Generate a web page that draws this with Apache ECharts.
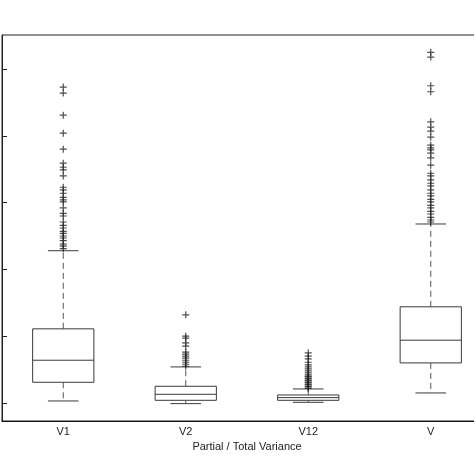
<!DOCTYPE html>
<html>
<head>
<meta charset="utf-8">
<script src="https://cdn.jsdelivr.net/npm/echarts@6/dist/echarts.min.js"></script>
<style>html,body{margin:0;padding:0;background:#fff;overflow:hidden;width:474px;height:474px;}#c{width:494px;height:474px;}</style>
</head>
<body>
<div id="c"></div>
<script>
const categories = ['V1', 'V2', 'V12', 'V'];
// [low whisker, Q1, median, Q3, high whisker]
const boxV1 = [0.003, 0.031, 0.064, 0.111, 0.228];
const boxV2 = [-0.001, 0.004, 0.013, 0.025, 0.054];
const boxV12 = [0.001, 0.004, 0.008, 0.012, 0.021];
const boxV = [0.015, 0.060, 0.094, 0.144, 0.268];
const outV1 = [0.473, 0.464, 0.431, 0.404, 0.380, 0.359, 0.353, 0.349, 0.340, 0.323, 0.319, 0.314, 0.308, 0.304, 0.301, 0.292, 0.284, 0.280, 0.271, 0.266, 0.262, 0.257, 0.254, 0.250, 0.247, 0.243, 0.238, 0.235, 0.231];
const outV2 = [0.132, 0.100, 0.097, 0.090, 0.085, 0.076, 0.073, 0.070, 0.067, 0.064, 0.061, 0.058, 0.055];
const outV12 = [0.075, 0.070, 0.066, 0.061, 0.057, 0.054, 0.051, 0.048, 0.045, 0.042, 0.040, 0.039, 0.037, 0.036, 0.034, 0.033, 0.031, 0.030, 0.028, 0.027, 0.025, 0.024, 0.022];
const outV = [0.525, 0.518, 0.475, 0.466, 0.421, 0.413, 0.407, 0.398, 0.386, 0.382, 0.379, 0.374, 0.367, 0.356, 0.344, 0.340, 0.334, 0.329, 0.325, 0.319, 0.314, 0.310, 0.305, 0.301, 0.296, 0.292, 0.287, 0.283, 0.278, 0.274, 0.271];
const yTicks = [0, 0.1, 0.2, 0.3, 0.4, 0.5];
const xTitle = 'Partial / Total Variance';

const boxes = [boxV1, boxV2, boxV12, boxV];
const outs = [outV1, outV2, outV12, outV];
const boxData = boxes.map((b, i) => [i].concat(b));
const outData = [];
outs.forEach((arr, i) => arr.forEach(v => outData.push([i, v])));

const lineColor = '#3a3a3a';
const chart = echarts.init(document.getElementById('c'));
chart.setOption({
  animation: false,
  backgroundColor: '#fff',
  textStyle: { fontFamily: 'Liberation Sans, Arial, sans-serif' },
  grid: { left: 2, right: 2, top: 35, bottom: 53, show: true, borderColor: '#222', borderWidth: 1 },
  xAxis: [{
    type: 'category', data: categories, position: 'bottom',
    axisLine: { onZero: false, lineStyle: { color: '#111', width: 1.2 } },
    axisTick: { inside: true, alignWithLabel: true, length: 5, lineStyle: { color: '#222' } },
    axisLabel: { color: '#222', fontSize: 11, margin: 5 },
    name: xTitle, nameLocation: 'middle', nameGap: 14,
    nameTextStyle: { color: '#222', fontSize: 11 }
  }, {
    type: 'category', data: categories, position: 'top',
    axisLine: { show: false },
    axisTick: { inside: true, alignWithLabel: true, length: 5, lineStyle: { color: '#222' } },
    axisLabel: { show: false }
  }],
  yAxis: {
    type: 'value', min: -0.027, max: 0.551,
    axisLine: { show: true, lineStyle: { color: '#222' } },
    axisTick: { show: true, inside: true, length: 5, customValues: yTicks, lineStyle: { color: '#222' } },
    axisLabel: { show: false },
    splitLine: { show: false }
  },
  series: [{
    type: 'custom',
    data: boxData,
    encode: { x: 0, y: [1, 2, 3, 4, 5] },
    z: 2,
    renderItem: function (params, api) {
      const idx = api.value(0);
      const pL = api.coord([idx, api.value(1)]);
      const p1 = api.coord([idx, api.value(2)]);
      const pm = api.coord([idx, api.value(3)]);
      const p3 = api.coord([idx, api.value(4)]);
      const pH = api.coord([idx, api.value(5)]);
      const x = pm[0];
      const bw = api.size([1, 0])[0] * 0.5;
      const cw = bw / 2;
      const solid = { stroke: lineColor, lineWidth: 1, fill: null };
      const dashed = { stroke: '#555', lineWidth: 1, lineDash: [6, 4], fill: null };
      return {
        type: 'group',
        children: [
          { type: 'line', shape: { x1: x, y1: p3[1], x2: x, y2: pH[1] }, style: dashed },
          { type: 'line', shape: { x1: x, y1: p1[1], x2: x, y2: pL[1] }, style: dashed },
          { type: 'line', shape: { x1: x - cw / 2, y1: pH[1], x2: x + cw / 2, y2: pH[1] }, style: solid },
          { type: 'line', shape: { x1: x - cw / 2, y1: pL[1], x2: x + cw / 2, y2: pL[1] }, style: solid },
          { type: 'rect', shape: { x: x - bw / 2, y: p3[1], width: bw, height: p1[1] - p3[1] }, style: { stroke: lineColor, lineWidth: 1, fill: '#fff' } },
          { type: 'line', shape: { x1: x - bw / 2, y1: pm[1], x2: x + bw / 2, y2: pm[1] }, style: solid }
        ]
      };
    }
  }, {
    type: 'scatter',
    data: outData,
    z: 3,
    symbol: 'path://M0 4.5 L9 4.5 M4.5 0 L4.5 9',
    symbolSize: 7,
    itemStyle: { color: 'none', borderColor: '#222', borderWidth: 1.2 }
  }]
});
</script>
</body>
</html>
